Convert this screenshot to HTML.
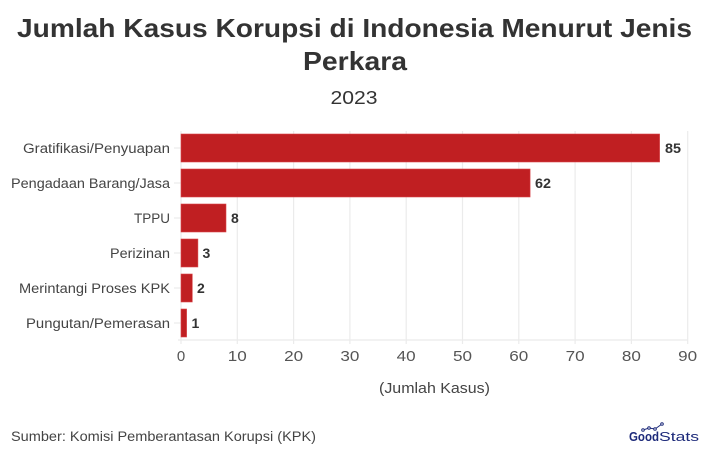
<!DOCTYPE html>
<html>
<head>
<meta charset="utf-8">
<style>
html,body{margin:0;padding:0;background:#fff;}
svg{display:block;}
text{font-family:"Liberation Sans",Arial,sans-serif;}
</style>
</head>
<body>
<svg width="709" height="458" viewBox="0 0 709 458" xmlns="http://www.w3.org/2000/svg">
<rect width="709" height="458" fill="#fff"/>
<!-- Title -->
<text x="354.5" y="37" text-anchor="middle" font-size="26" font-weight="bold" fill="#333" textLength="675" lengthAdjust="spacingAndGlyphs">Jumlah Kasus Korupsi di Indonesia Menurut Jenis</text>
<text x="355" y="70" text-anchor="middle" font-size="26" font-weight="bold" fill="#333" textLength="104" lengthAdjust="spacingAndGlyphs">Perkara</text>
<text x="354" y="104" text-anchor="middle" font-size="18" fill="#333" textLength="47" lengthAdjust="spacingAndGlyphs">2023</text>

<!-- gridlines -->
<g stroke="#ebebeb" stroke-width="1.2">
<line x1="181" y1="131" x2="181" y2="344"/>
<line x1="237.3" y1="131" x2="237.3" y2="344"/>
<line x1="293.6" y1="131" x2="293.6" y2="344"/>
<line x1="349.9" y1="131" x2="349.9" y2="344"/>
<line x1="406.2" y1="131" x2="406.2" y2="344"/>
<line x1="462.5" y1="131" x2="462.5" y2="344"/>
<line x1="518.8" y1="131" x2="518.8" y2="344"/>
<line x1="575.1" y1="131" x2="575.1" y2="344"/>
<line x1="631.4" y1="131" x2="631.4" y2="344"/>
<line x1="687.7" y1="131" x2="687.7" y2="344"/>
<line x1="178" y1="340" x2="688" y2="340"/>
<line x1="174" y1="148" x2="181" y2="148"/>
<line x1="174" y1="183" x2="181" y2="183"/>
<line x1="174" y1="218" x2="181" y2="218"/>
<line x1="174" y1="253" x2="181" y2="253"/>
<line x1="174" y1="288" x2="181" y2="288"/>
<line x1="174" y1="323" x2="181" y2="323"/>
</g>

<!-- bars -->
<g fill="#c01f22" stroke="#d9474a" stroke-width="0.6">
<rect x="181" y="134" width="478.6" height="28"/>
<rect x="181" y="169" width="349.1" height="28"/>
<rect x="181" y="204" width="45" height="28"/>
<rect x="181" y="239" width="16.9" height="28"/>
<rect x="181" y="274" width="11.3" height="28"/>
<rect x="181" y="309" width="5.6" height="28"/>
</g>

<!-- value labels -->
<g font-size="14" font-weight="bold" fill="#333">
<text x="665" y="153" textLength="16" lengthAdjust="spacingAndGlyphs">85</text>
<text x="535" y="188" textLength="16" lengthAdjust="spacingAndGlyphs">62</text>
<text x="231" y="223">8</text>
<text x="202.5" y="258">3</text>
<text x="197" y="293">2</text>
<text x="191.5" y="328">1</text>
</g>

<!-- y labels -->
<g font-size="13.5" fill="#444" text-anchor="end">
<text x="170" y="153" textLength="147" lengthAdjust="spacingAndGlyphs">Gratifikasi/Penyuapan</text>
<text x="170" y="188" textLength="159" lengthAdjust="spacingAndGlyphs">Pengadaan Barang/Jasa</text>
<text x="170" y="223" textLength="36" lengthAdjust="spacingAndGlyphs">TPPU</text>
<text x="170" y="258" textLength="60" lengthAdjust="spacingAndGlyphs">Perizinan</text>
<text x="170" y="293" textLength="151" lengthAdjust="spacingAndGlyphs">Merintangi Proses KPK</text>
<text x="170" y="328" textLength="144" lengthAdjust="spacingAndGlyphs">Pungutan/Pemerasan</text>
</g>

<!-- x tick labels -->
<g font-size="15" fill="#555" text-anchor="middle">
<text x="181" y="361">0</text>
<text x="237.3" y="361" textLength="19" lengthAdjust="spacingAndGlyphs">10</text>
<text x="293.6" y="361" textLength="19" lengthAdjust="spacingAndGlyphs">20</text>
<text x="349.9" y="361" textLength="19" lengthAdjust="spacingAndGlyphs">30</text>
<text x="406.2" y="361" textLength="19" lengthAdjust="spacingAndGlyphs">40</text>
<text x="462.5" y="361" textLength="19" lengthAdjust="spacingAndGlyphs">50</text>
<text x="518.8" y="361" textLength="19" lengthAdjust="spacingAndGlyphs">60</text>
<text x="575.1" y="361" textLength="19" lengthAdjust="spacingAndGlyphs">70</text>
<text x="631.4" y="361" textLength="19" lengthAdjust="spacingAndGlyphs">80</text>
<text x="687.7" y="361" textLength="19" lengthAdjust="spacingAndGlyphs">90</text>
</g>
<text x="434.5" y="393" text-anchor="middle" font-size="14.5" fill="#444" textLength="111" lengthAdjust="spacingAndGlyphs">(Jumlah Kasus)</text>

<!-- source -->
<text x="11" y="441" font-size="13.5" fill="#444" textLength="305" lengthAdjust="spacingAndGlyphs">Sumber: Komisi Pemberantasan Korupsi (KPK)</text>

<!-- logo -->
<polyline points="643,430 649,428 655,429 662,424" fill="none" stroke="#1d2a7a" stroke-width="1"/>
<g fill="#fff" stroke="#1d2a7a" stroke-width="1">
<circle cx="643" cy="430" r="1.3"/>
<circle cx="649" cy="428" r="1.3"/>
<circle cx="655" cy="429" r="1.3"/>
<circle cx="662" cy="424" r="1.3"/>
</g>
<text x="629" y="441" font-size="12.5" font-weight="bold" fill="#1d2a7a" textLength="30" lengthAdjust="spacingAndGlyphs">Good</text>
<text x="659" y="441" font-size="12.5" fill="#1d2a7a" textLength="40" lengthAdjust="spacingAndGlyphs">Stats</text>
</svg>
</body>
</html>
